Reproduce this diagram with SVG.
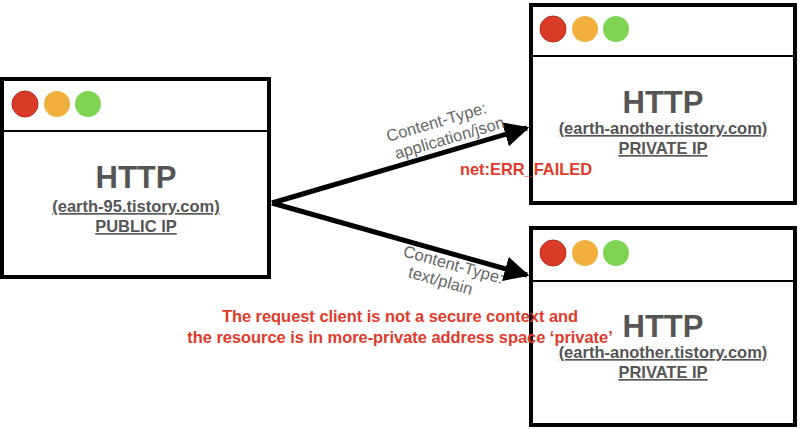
<svg xmlns="http://www.w3.org/2000/svg" width="800" height="429" viewBox="0 0 800 429">
<defs>
<style>
.box{fill:#fff;stroke:#000;stroke-width:4}
.div{stroke:#000;stroke-width:2}
.r{fill:#da3b26;stroke:#b8281a;stroke-width:1}
.o{fill:#f1b03d}
.g{fill:#80d454}
.h{font-family:"Liberation Sans",Arial,sans-serif;font-weight:bold;fill:#555;text-anchor:middle}
.t{font-size:31px}
.u{font-size:16.5px;text-decoration:underline}
.lbl{font-family:"Liberation Sans",Arial,sans-serif;font-size:16.5px;fill:#666;text-anchor:middle}
.red{font-family:"Liberation Sans",Arial,sans-serif;font-size:16.4px;font-weight:bold;fill:#e03a2a;text-anchor:middle}
.c{stroke:#000;stroke-width:5;fill:none}
</style>
<marker id="ah" viewBox="0 0 10 10" refX="9" refY="5" markerWidth="5" markerHeight="5" orient="auto"><path d="M0,0L10,5L0,10z" fill="#000"/></marker>
</defs>
<g id="left">
<rect class="box" x="2" y="79" width="267" height="198"/>
<line class="div" x1="2" y1="131" x2="269" y2="131"/>
<circle class="r" cx="25" cy="104" r="13"/><circle class="o" cx="57" cy="104" r="13"/><circle class="g" cx="88" cy="104" r="13"/>
<text class="h t" x="136" y="188">HTTP</text>
<text class="h u" x="136" y="212">(earth-95.tistory.com)</text>
<text class="h u" x="136" y="232">PUBLIC IP</text>
</g>
<g id="top">
<rect class="box" x="531" y="5" width="264" height="198"/>
<line class="div" x1="531" y1="56" x2="795" y2="56"/>
<circle class="r" cx="553" cy="29" r="13"/><circle class="o" cx="585" cy="29" r="13"/><circle class="g" cx="616" cy="29" r="13"/>
<text class="h t" x="663" y="113">HTTP</text>
<text class="h u" x="663" y="134">(earth-another.tistory.com)</text>
<text class="h u" x="663" y="154">PRIVATE IP</text>
</g>
<g id="bottom">
<rect class="box" x="531" y="228" width="264" height="197"/>
<line class="div" x1="531" y1="281" x2="795" y2="281"/>
<circle class="r" cx="553" cy="253" r="13"/><circle class="o" cx="585" cy="253" r="13"/><circle class="g" cx="616" cy="253" r="13"/>
<text class="h t" x="663" y="337">HTTP</text>
<text class="h u" x="663" y="358">(earth-another.tistory.com)</text>
<text class="h u" x="663" y="378">PRIVATE IP</text>
</g>
<g id="connectors">
<line class="c" x1="272" y1="203" x2="527" y2="128" marker-end="url(#ah)"/>
<line class="c" x1="272" y1="203" x2="527" y2="275" marker-end="url(#ah)"/>
<g transform="translate(440,134) rotate(-16.4)"><text class="lbl" x="0" y="-7">Content-Type:</text><text class="lbl" x="8" y="12">application/json</text></g>
<g transform="translate(452,270) rotate(15.8)"><text class="lbl" x="0" y="0">Content-Type:</text><text class="lbl" x="-8" y="19">text/plain</text></g>
</g>
<text class="red" x="526" y="175">net:ERR_FAILED</text>
<text class="red" x="400" y="322">The request client is not a secure context and</text>
<text class="red" x="400" y="343">the resource is in more-private address space ‘private’</text>
</svg>
